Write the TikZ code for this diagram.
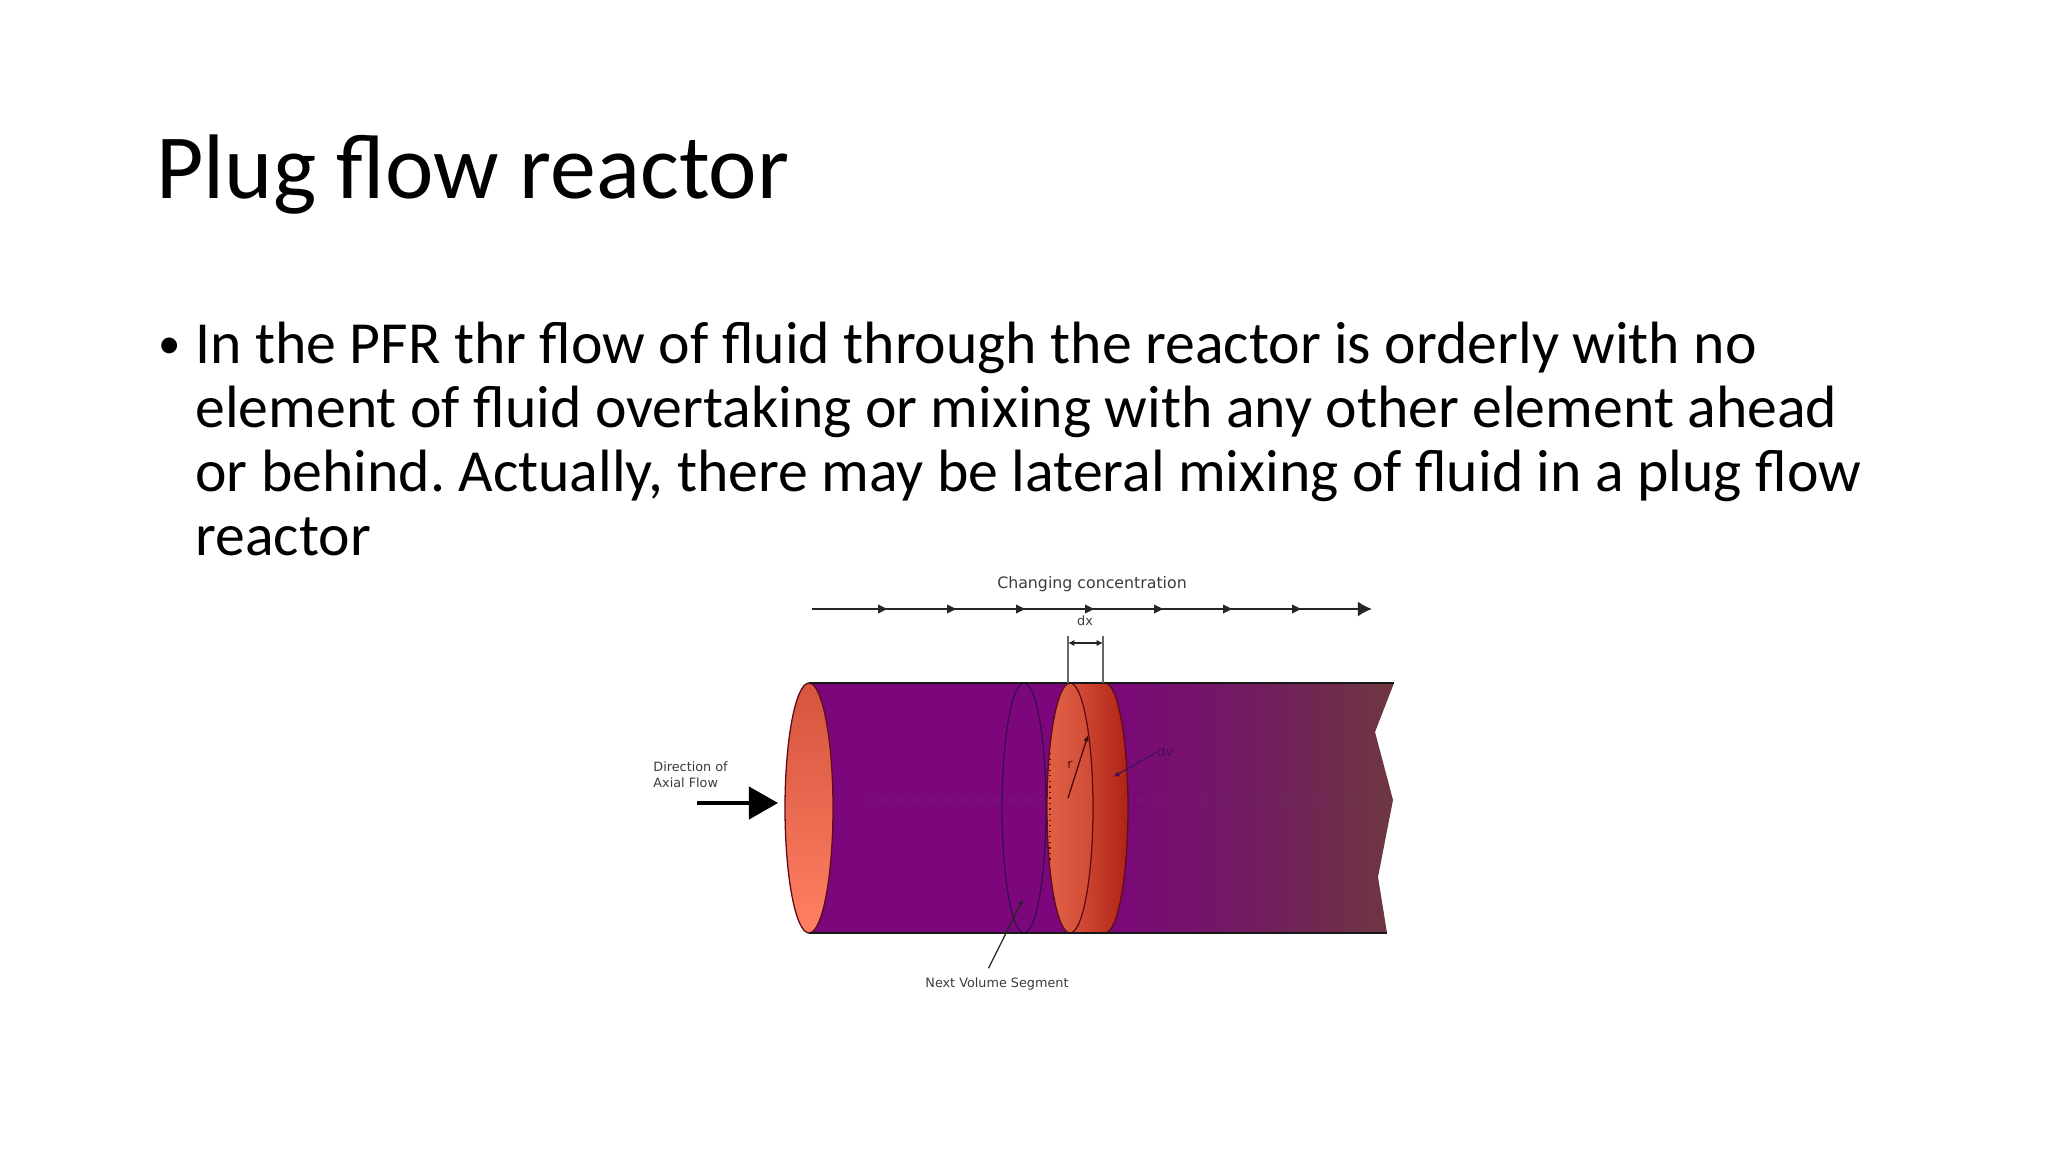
\documentclass[tikz,border=0pt]{standalone}
\usepackage{fontspec}
\setmainfont{Carlito}
\newfontfamily\labelfont{DejaVu Sans}
\usetikzlibrary{arrows.meta}
\frenchspacing
\definecolor{labelgray}{RGB}{60,60,60}
\definecolor{rimred}{RGB}{95,12,22}
\definecolor{ringpurple}{RGB}{58,10,82}
\definecolor{faceTop}{RGB}{212,84,62}
\definecolor{faceBottom}{RGB}{255,128,98}
\definecolor{sliceA}{RGB}{214,82,58}
\definecolor{sliceB}{RGB}{176,34,22}
\definecolor{frontA}{RGB}{224,96,70}
\definecolor{frontB}{RGB}{208,76,52}
\definecolor{tubepurple}{RGB}{124,6,124}
\definecolor{tubemid}{RGB}{114,26,98}
\definecolor{tubebrown}{RGB}{110,55,64}
\definecolor{dvpurple}{RGB}{70,14,90}
\pgfdeclarehorizontalshading{tubeshade}{100bp}{color(0bp)=(tubepurple); color(25bp)=(tubepurple); color(50bp)=(tubepurple); color(62bp)=(tubemid); color(75bp)=(tubebrown); color(100bp)=(tubebrown)}
\tikzstyle{bodyline} = [anchor=base west, inner sep=0pt, font=\fontsize{28}{30}\selectfont]
\tikzstyle{figtext} = [inner sep=0pt, text=labelgray, font=\labelfont\fontsize{6}{7.5}\selectfont]
\tikzstyle{tubeedge} = [line width=1.2pt, black!90]
\tikzstyle{rim} = [draw=rimred, line width=0.6pt]
\tikzstyle{dimline} = [line width=0.5pt, black!60]
\tikzstyle{pointer} = [line width=0.6pt, black!85, -{Latex[length=3pt, width=2.5pt]}]

\begin{document}
\begin{tikzpicture}[x=0.46875pt, y=-0.46875pt]
	\useasboundingbox (0,0) rectangle (2048,1152);
	\fill[white] (0,0) rectangle (2048,1152);
	% slide text
	\node[anchor=base west, inner sep=0pt, font=\fontsize{43}{52}\selectfont] (title) at (156,199) {Plug flow reactor};
	\node[anchor=base west, inner sep=0pt, font=\fontsize{21}{24}\selectfont] (bullet) at (158,358) {\textbullet};
	\node[bodyline] (line1) at (195,363) {In the PFR thr flow of fluid through the reactor is orderly with no};
	\node[bodyline] (line2) at (195,427) {element of fluid overtaking or mixing with any other element ahead};
	\node[bodyline] (line3) at (195,491) {or behind. Actually, there may be lateral mixing of fluid in a plug flow};
	\node[bodyline] (line4) at (195,555) {reactor};
	% tube
	\shade[shading=tubeshade] (809,683) -- (1394,683) -- (1375,732) -- (1393,800) -- (1378,877) -- (1387,933) -- (809,933) -- cycle;
	\draw[ringpurple!80, line width=0.5pt, dotted] (870,800) -- (1385,800);
	\shade[top color=faceTop, bottom color=faceBottom, rim] (809,808) ellipse [x radius=24, y radius=125];
	\draw[ringpurple, line width=0.6pt] (1024,808) ellipse [x radius=22, y radius=125];
	% volume slice
	\shade[left color=sliceA, right color=sliceB] (1070,683) -- (1105,683) arc[start angle=-90, end angle=90, x radius=23, y radius=125] -- (1070,933) arc[start angle=90, end angle=-90, x radius=23, y radius=125] -- cycle;
	\draw[rimred, line width=0.6pt] (1105,683) arc[start angle=-90, end angle=90, x radius=23, y radius=125];
	\shade[left color=frontA, right color=frontB, rim] (1070,808) ellipse [x radius=23, y radius=125];
	\draw[rimred, line width=0.6pt, dotted] (1050,753) -- (1050,863);
	\draw[tubeedge] (809,683) -- (1394,683);
	\draw[tubeedge] (809,933) -- (1387,933);
	% changing concentration
	\coordinate (concstart) at (812,609);
	\coordinate (concend) at (1372,609);
	\draw[line width=0.9pt, black!85, -{Latex[length=6.6pt, width=7pt]}] (concstart) -- (concend);
	\foreach \k in {0,...,6}
		\fill[black!85] ({887+69*\k},609) -- ++(-9,-4.5) -- ++(0,9) -- cycle;
	\node[figtext, anchor=base, font=\labelfont\fontsize{7.4}{9}\selectfont] (conc) at (1092,588) {Changing concentration};
	% dx
	\coordinate (dxL) at (1068,683);
	\coordinate (dxR) at (1103,683);
	\draw[dimline] (1068,636) -- (dxL);
	\draw[dimline] (1103,636) -- (dxR);
	\draw[line width=0.6pt, black!85, {Latex[length=3pt, width=3pt]}-{Latex[length=3pt, width=3pt]}] (1068,643) -- (1103,643);
	\node[figtext] (dx) at (1085,621) {dx};
	% axial flow
	\node[figtext, anchor=north west, align=left] (dirlabel) at (653,761) {Direction of\\Axial Flow};
	\coordinate (flowstart) at (697,803);
	\coordinate (flowend) at (778,803);
	\draw[line width=1.9pt, -{Triangle[length=13.6pt, width=15pt]}] (flowstart) -- (flowend);
	% r and dv
	\coordinate (rfoot) at (1068,798);
	\coordinate (rtip) at (1088,735);
	\draw[pointer, rimred!70!black] (rfoot) -- (rtip);
	\node[figtext, text=rimred] (rlabel) at (1070,765) {r};
	\node[figtext, text=dvpurple, anchor=west] (dvlabel) at (1157,752) {dv};
	\coordinate (dvpt) at (1113,777);
	\draw[pointer, dvpurple] (dvlabel.west) -- (dvpt);
	% next volume segment
	\node[figtext, anchor=base] (segment) at (997,987) {Next Volume Segment};
	\coordinate (segpt) at (1023,899);
	\draw[pointer] ([xshift=-4pt, yshift=4pt]segment.north) -- (segpt);
\end{tikzpicture}
\end{document}
